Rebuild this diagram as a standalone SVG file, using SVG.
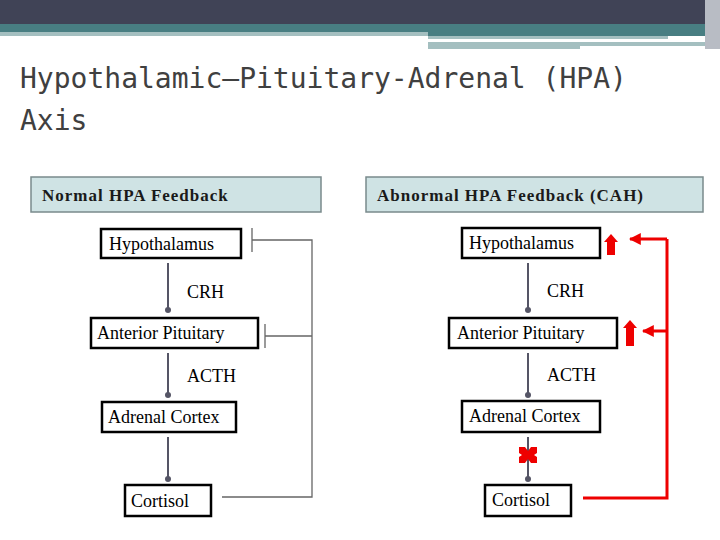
<svg xmlns="http://www.w3.org/2000/svg" width="720" height="540" viewBox="0 0 720 540">
<defs>
<style>
.box{fill:#fff;stroke:#000;stroke-width:2.5}
.t{font-family:'Liberation Serif','DejaVu Serif',serif;font-size:18px;fill:#000}
.h{font-family:'Liberation Serif','DejaVu Serif',serif;font-size:17px;font-weight:bold;letter-spacing:1px;fill:#1a1a1a}
.g{stroke:#555566;stroke-width:2;fill:none}
.f{stroke:#666;stroke-width:1.3;fill:none}
.r{stroke:#e00;stroke-width:3;fill:none}
</style>
<marker id="a" viewBox="0 0 6 6" refX="3" refY="3" markerWidth="3" markerHeight="3" orient="auto"><circle cx="3" cy="3" r="3" fill="#555566"/></marker>
<marker id="ra" viewBox="0 0 10 10" refX="9" refY="5" markerWidth="4" markerHeight="4" orient="auto"><path d="M0,0 L10,5 L0,10 z" fill="#e00"/></marker>
</defs>
<rect width="720" height="540" fill="#fff"/>
<g id="banner">
<rect x="0" y="0" width="720" height="24" fill="#404356"/>
<rect x="0" y="24" width="720" height="9" fill="#487e82"/>
<rect x="0" y="32" width="428" height="4" fill="#a4bfc0"/>
<rect x="428" y="32" width="280" height="4" fill="#487e82"/>
<rect x="428" y="36" width="240" height="3" fill="#a4bfc0"/>
<rect x="428" y="42" width="152" height="7" fill="#a4bfc0"/>
<rect x="580" y="42" width="130" height="4" fill="#a4bfc0"/>
<rect x="705" y="0" width="15" height="49" fill="#b8bcc4"/>
</g>
<g id="title" font-family="DejaVu Sans Mono,monospace" font-size="28" fill="#404040">
<text x="20" y="88">Hypothalamic–Pituitary-Adrenal (HPA)</text>
<text x="20" y="130">Axis</text>
</g>
<g id="hdr-normal"><rect x="31" y="177" width="290" height="35" fill="#cfe3e4" stroke="#7a8a8c" stroke-width="1.5"/><text class="h" x="42" y="201">Normal HPA Feedback</text></g>
<g id="hdr-abnormal"><rect x="366" y="177" width="337" height="35" fill="#cfe3e4" stroke="#7a8a8c" stroke-width="1.5"/><text class="h" x="377" y="201">Abnormal HPA Feedback (CAH)</text></g>
<g id="n-hyp"><rect class="box" x="101" y="229" width="140" height="29"/><text class="t" x="109" y="250">Hypothalamus</text></g>
<g id="n-ap"><rect class="box" x="91" y="318" width="167" height="30"/><text class="t" x="97" y="339">Anterior Pituitary</text></g>
<g id="n-ac"><rect class="box" x="102" y="402" width="134" height="30"/><text class="t" x="108" y="423">Adrenal Cortex</text></g>
<g id="n-cor"><rect class="box" x="125" y="485" width="86" height="31"/><text class="t" x="131" y="507">Cortisol</text></g>
<g id="a-hyp"><rect class="box" x="462" y="228" width="138" height="30"/><text class="t" x="469" y="249">Hypothalamus</text></g>
<g id="a-ap"><rect class="box" x="449" y="318" width="168" height="30"/><text class="t" x="457" y="339">Anterior Pituitary</text></g>
<g id="a-ac"><rect class="box" x="462" y="401" width="138" height="31"/><text class="t" x="469" y="422">Adrenal Cortex</text></g>
<g id="a-cor"><rect class="box" x="485" y="485" width="86" height="31"/><text class="t" x="492" y="506">Cortisol</text></g>
<g id="connectors">
<path class="g" d="M168,263V310" marker-end="url(#a)"/>
<path class="g" d="M168,353V395" marker-end="url(#a)"/>
<path class="g" d="M168,437V479" marker-end="url(#a)"/>
<path class="g" d="M528,263V310" marker-end="url(#a)"/>
<path class="g" d="M528,353V395" marker-end="url(#a)"/>
<path class="g" d="M528,437V479" marker-end="url(#a)"/>
<text class="t" x="187" y="298">CRH</text><text class="t" x="187" y="382">ACTH</text>
<text class="t" x="547" y="297">CRH</text><text class="t" x="547" y="381">ACTH</text>
<path class="f" d="M222,497H312V240H252M252,228V252M312,336H265M265,324V348"/>
<path class="r" d="M583,498H667V239"/>
<path class="r" d="M667,239H630" marker-end="url(#ra)"/>
<path class="r" d="M667,331H643" marker-end="url(#ra)"/>
<path fill="#e00" d="M611,234L618,242H615V255H607V242H604z"/>
<path fill="#e00" d="M630,320L637,328H634V346H626V328H623z"/>
<path fill="#e00" d="M519,447h6l3,4l3,-4h6v6l-3,2l3,2v6h-6l-3,-4l-3,4h-6v-6l3,-2l-3,-2z"/>
</g>
</svg>
